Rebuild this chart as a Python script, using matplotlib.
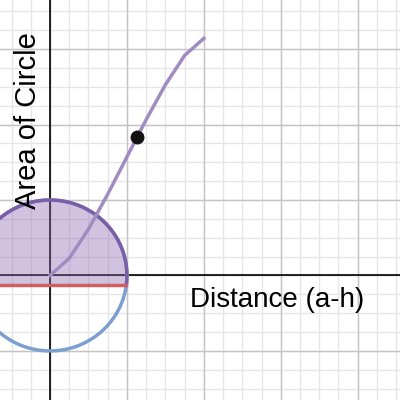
import numpy as np
import matplotlib.pyplot as plt

# distance h (a-h) and area of circle cap above the cut, unit circle
dist = [0, 0.25, 0.5, 0.75, 1.0, 1.25, 1.5, 1.75, 2.0]
area = [0, 0.227, 0.614, 1.076, 1.571, 2.065, 2.527, 2.915, 3.1416]
point_h = 1.13
point_area = 1.83
radius = 1.0

fig = plt.figure(figsize=(4, 4), dpi=100)
ax = fig.add_axes([0, 0, 1, 1])
ax.set_xlim(-0.65, 4.55)
ax.set_ylim(-1.65, 3.65)

for v in np.arange(-0.5, 4.6, 0.25):
    ax.axvline(v, color='#e6e6e6', lw=1, zorder=0)
for v in np.arange(-1.5, 3.7, 0.25):
    ax.axhline(v, color='#e6e6e6', lw=1, zorder=0)
for v in range(-1, 5):
    ax.axvline(v, color='#c4c4c4', lw=1, zorder=0)
for v in range(-1, 4):
    ax.axhline(v, color='#c4c4c4', lw=1, zorder=0)
ax.axvline(0, color='black', lw=1.2, zorder=1)
ax.axhline(0, color='black', lw=1.2, zorder=1)

# circle
t = np.linspace(0, 2 * np.pi, 300)
ax.plot(radius * np.cos(t), radius * np.sin(t), color='#7ba0d0', lw=2.5, zorder=2)

# shaded cap above the cut line
cut = 1 - point_h
a0 = np.arcsin(cut / radius)
ta = np.linspace(a0, np.pi - a0, 200)
cx = radius * np.cos(ta)
cy = radius * np.sin(ta)
ax.fill(np.r_[cx, cx[0]], np.r_[cy, cy[0]], color='#8c6bb0', alpha=0.4, lw=0, zorder=2)
ax.plot(cx, cy, color='#7a5fa8', lw=2.5, zorder=3)
ax.plot([-radius * np.cos(a0), radius * np.cos(a0)], [cut, cut], color='#d06060', lw=2.5, zorder=3)

# area curve
ax.plot(dist, area, color='#a08cc0', lw=2.5, zorder=3, solid_joinstyle='round')
ax.plot(point_h, point_area, 'o', color='#111111', ms=9, zorder=4)

ax.text(-0.29, 2.05, 'Area of Circle', rotation=90, fontsize=21, ha='center', va='center',
        family='Liberation Sans', zorder=5)
ax.text(2.95, -0.33, 'Distance (a-h)', fontsize=20, ha='center', va='center',
        family='Liberation Sans', zorder=5)

ax.set_axis_off()
fig.savefig('out.png', dpi=100)
